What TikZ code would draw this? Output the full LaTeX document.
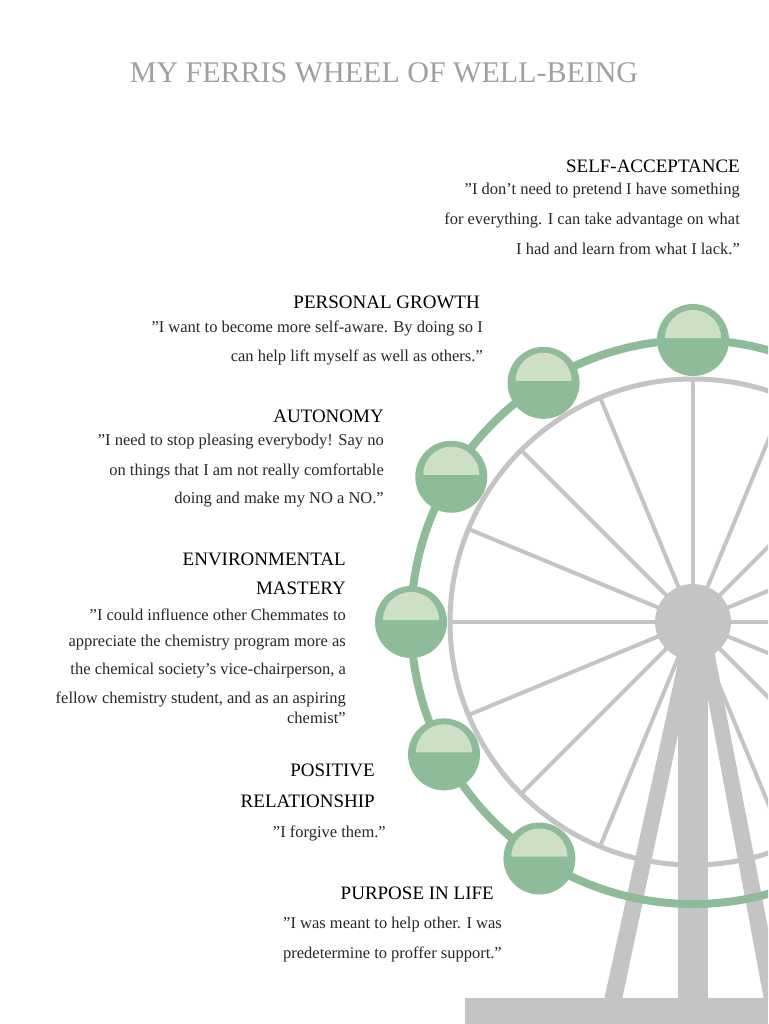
\documentclass[tikz,border=0pt]{standalone}
\usepackage{fontspec}
\setmainfont{Liberation Serif}
\usetikzlibrary{calc}
\definecolor{grn}{HTML}{8FBC98}
\definecolor{lgrn}{HTML}{CDE0C6}
\definecolor{gry}{HTML}{C4C4C4}
\definecolor{ttl}{HTML}{A0A0A0}
\tikzset{
 hd/.style={anchor=east,font=\fontsize{19}{22}\selectfont,text=black,inner sep=0},
 tx/.style={anchor=east,font=\fontsize{16.5}{20}\selectfont,text=black!85,inner sep=0},
 cabin/.style={circle,fill=grn,minimum size=72,inner sep=0}
}
\begin{document}
\begin{tikzpicture}[x=1pt,y=-1pt]
\useasboundingbox (0,0) rectangle (768,1024);
\begin{scope}
\clip (0,0) rectangle (768,1024);
\coordinate (c) at (693,622);
\foreach \a in {0,22.5,...,337.5}
  \draw[gry,line width=4] (c) -- ++(\a:243);
\draw[gry,line width=5] (c) circle (243);
\fill[gry] (678,640) -- (708,640) -- (708,1000) -- (678,1000) -- cycle;
\fill[gry] (683,640) -- (697,645) -- (622,1000) -- (604,1000) -- cycle;
\fill[gry] (698,645) -- (712,640) -- (782,1000) -- (764,1000) -- cycle;
\fill[gry] (465,998) rectangle (768,1024);
\node[circle,fill=gry,minimum size=76,inner sep=0] (hub) at (c) {};
\draw[grn,line width=8] (c) circle (282);
\foreach \a [count=\i] in {90,122,149,180,208,237} {
  \node[cabin] (k\i) at ($(c)+(-\a:282)$) {};
  \fill[lgrn] ($(k\i)+(-28,-2)$) arc[start angle=180,end angle=360,radius=28] -- cycle;
}
\end{scope}
\node[font=\fontsize{30}{34}\selectfont,text=ttl] (title) at (384,73) {MY FERRIS WHEEL OF WELL-BEING};
\node[hd] (h1) at (740,166) {SELF-ACCEPTANCE};
\node[tx] (t11) at (740,191) {"I don't need to pretend I have something};
\node[tx] (t12) at (740,220) {for everything. I can take advantage on what};
\node[tx] (t13) at (740,249) {I had and learn from what I lack."};
\node[hd] (h2) at (480,302) {PERSONAL GROWTH};
\node[tx] (t21) at (483,328) {"I want to become more self-aware. By doing so I};
\node[tx] (t22) at (483,357) {can help lift myself as well as others."};
\node[hd] (h3) at (384,416) {AUTONOMY};
\node[tx] (t31) at (384,442) {"I need to stop pleasing everybody! Say no};
\node[tx] (t32) at (384,471) {on things that I am not really comfortable};
\node[tx] (t33) at (384,500) {doing and make my NO a NO."};
\node[hd] (h4) at (346,559) {ENVIRONMENTAL};
\node[hd] (h4b) at (346,588) {MASTERY};
\node[tx] (t41) at (346,615) {"I could influence other Chemmates to};
\node[tx] (t42) at (346,643) {appreciate the chemistry program more as};
\node[tx] (t43) at (346,671) {the chemical society's vice-chairperson, a};
\node[tx] (t44) at (346,699) {fellow chemistry student, and as an aspiring};
\node[tx] (t45) at (346,718) {chemist''};
\node[hd] (h5) at (375,770) {POSITIVE};
\node[hd] (h5b) at (375,801) {RELATIONSHIP};
\node[tx] (t51) at (386,833) {"I forgive them."};
\node[hd] (h6) at (494,893) {PURPOSE IN LIFE};
\node[tx] (t61) at (502,925) {"I was meant to help other. I was};
\node[tx] (t62) at (502,954) {predetermine to proffer support."};
\end{tikzpicture}
\end{document}
